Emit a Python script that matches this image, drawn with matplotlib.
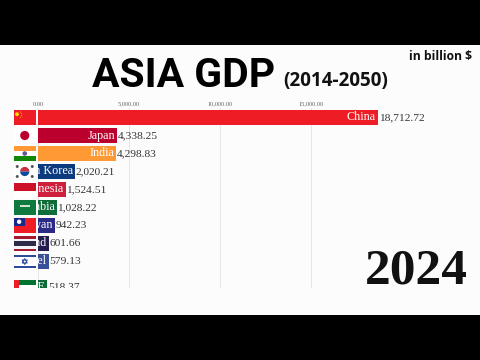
import matplotlib
matplotlib.use('Agg')
import matplotlib.pyplot as plt
from matplotlib.patches import Rectangle, Circle, Wedge, RegularPolygon

countries = ['China', 'Japan', 'India', 'South Korea', 'Indonesia', 'Saudi Arabia',
             'Taiwan', 'Thailand', 'Israel', 'UAE']
gdp = [18712.72, 4338.25, 4298.83, 2020.21, 1524.51, 1028.22, 942.23, 601.66, 579.13, 518.37]
ranks = [0, 1, 2, 3, 4, 5, 6, 7, 8, 9.44]
bar_colors = ['#ee1c25', '#bc002d', '#ff9933', '#0b3a7e', '#ce1f3c', '#0f6d3a',
              '#2b2a86', '#241d4f', '#38509a', '#0b6b38']
x_ticks = [0, 5000, 10000, 15000]

W, H = 480, 360
BG = '#fcfcfc'
SERIF = 'Liberation Serif'
SANS = 'Open Sans'

fig = plt.figure(figsize=(W / 100, H / 100), dpi=100, facecolor=BG)


def px_axes(left, top, right, bottom):
    return fig.add_axes([left / W, 1 - bottom / H, (right - left) / W, (bottom - top) / H])


# bars
ax = px_axes(38, 108, 480, 288)
ax.set_facecolor('none')
ax.set_xlim(0, 442 / 0.01817)
ax.set_ylim((288 - 117.5) / 18, (108 - 117.5) / 18)
bars = ax.barh(ranks, gdp, height=15.5 / 18, color=bar_colors, zorder=3)
for bar, name, val in zip(bars, countries, gdp):
    y = bar.get_y() + bar.get_height() / 2
    t = ax.text(val - 110, y, name, ha='right', va='center', color='white',
                family=SERIF, fontsize=8.7, zorder=4)
    t.set_clip_path(bar)
    ax.text(val + 40, y, f'{val:,.2f}', ha='left', va='center', color='#333333',
            family=SERIF, fontsize=8.2, zorder=4, clip_on=True)

ax.xaxis.tick_top()
ax.set_xticks(x_ticks)
ax.set_xticklabels([f'{v:,.2f}' for v in x_ticks], family=SERIF, fontsize=4.6, color='#666666')
ax.tick_params(axis='x', length=0, pad=1)
ax.set_yticks([])
ax.grid(axis='x', color='#e6e6e6', lw=0.7, zorder=0)
ax.set_axisbelow(True)
for s in ax.spines.values():
    s.set_visible(False)

# flags, in pixel coordinates
fx = px_axes(0, 108, 38, 288)
fx.set_xlim(0, 38)
fx.set_ylim(288, 108)
fx.axis('off')
fx.patch.set_visible(False)
FL, FW, FH = 13.5, 22.5, 15


def stripes(top, colors, sizes=None):
    sizes = sizes or [1] * len(colors)
    total = sum(sizes)
    y = top
    for c, s in zip(colors, sizes):
        h = FH * s / total
        fx.add_patch(Rectangle((FL, y), FW, h, color=c, lw=0))
        y += h


tops = [110, 128, 146, 164, 183, 200, 218, 236, 254, 280]
cx = FL + FW / 2

# China
stripes(tops[0], ['#ee1c25'])
fx.add_patch(RegularPolygon((FL + 3.5, tops[0] + 4.2), 5, radius=2.2, color='#ffde00', lw=0))
for dx, dy in [(7, 2), (8.2, 3.6), (8.2, 5.6), (7, 7.2)]:
    fx.add_patch(Circle((FL + dx, tops[0] + dy), 0.5, color='#ffde00', lw=0))
# Japan
stripes(tops[1], ['#ffffff'])
fx.add_patch(Circle((cx, tops[1] + 7.5), 4.6, color='#bc002d', lw=0))
# India
stripes(tops[2], ['#ff9933', '#ffffff', '#138808'])
fx.add_patch(Circle((cx, tops[2] + 7.5), 2.3, color='#5a5a9a', lw=0))
# South Korea
stripes(tops[3], ['#ffffff'])
fx.add_patch(Wedge((cx, tops[3] + 7.5), 4.6, 180, 360, color='#cd2e3a', lw=0))
fx.add_patch(Wedge((cx, tops[3] + 7.5), 4.6, 0, 180, color='#0f4a9a', lw=0))
for dx, dy in [(-7.5, -5), (7.5, -5), (-7.5, 5), (7.5, 5)]:
    fx.add_patch(Circle((cx + dx, tops[3] + 7.5 + dy), 1.5, color='#555555', lw=0))
# Indonesia
stripes(tops[4], ['#ce1126', '#ffffff'])
# Saudi Arabia
stripes(tops[5], ['#0f7a3f'])
fx.add_patch(Rectangle((cx - 5, tops[5] + 5), 10, 2.2, color='#cfe3d5', lw=0))
fx.add_patch(Rectangle((cx - 4.5, tops[5] + 9.5), 9, 0.7, color='#ffffff', lw=0))
# Taiwan
stripes(tops[6], ['#ee1c25'])
fx.add_patch(Rectangle((FL, tops[6]), FW / 2, FH / 2, color='#1a2a8c', lw=0))
fx.add_patch(Circle((FL + FW / 4, tops[6] + FH / 4), 2.2, color='#ffffff', lw=0))
# Thailand
stripes(tops[7], ['#a51931', '#f4f5f8', '#2d2a4a', '#f4f5f8', '#a51931'], [1, 1, 2, 1, 1])
# Israel
stripes(tops[8], ['#ffffff', '#2b4a9b', '#ffffff', '#2b4a9b', '#ffffff'], [1, 1.2, 6.5, 1.2, 1])
fx.add_patch(RegularPolygon((cx, tops[8] + 7.5), 3, radius=3, fill=False, ec='#2b4a9b', lw=0.7))
fx.add_patch(RegularPolygon((cx, tops[8] + 7.5), 3, radius=3, orientation=3.14159, fill=False,
                            ec='#2b4a9b', lw=0.7))
# UAE
stripes(tops[9], ['#00732f', '#ffffff', '#000000'])
fx.add_patch(Rectangle((FL, tops[9]), 5, FH, color='#ee1c25', lw=0))

# black letterbox bands
for y0, h in [(0, 45), (315, 45)]:
    fig.patches.append(Rectangle((0, 1 - (y0 + h) / H), 1, h / H, transform=fig.transFigure,
                                 color='#000000', lw=0, zorder=10))


def label(x, y, s, **kw):
    fig.text(x / W, 1 - y / H, s, **kw)


label(92, 87, 'ASIA GDP', family='Roboto', weight='bold', fontsize=29.4, color='black', va='baseline')
label(283, 86, '(2014-2050)', family=SANS, weight='bold', fontsize=13.6, color='#111111', va='baseline')
label(409, 60, 'in billion $', family=SANS, weight='bold', fontsize=8.7, color='#111111', va='baseline')
label(365, 284, '2024', family=SERIF, weight='bold', fontsize=37, color='#111111', va='baseline')

fig.savefig('out.png', dpi=100, facecolor=BG)
